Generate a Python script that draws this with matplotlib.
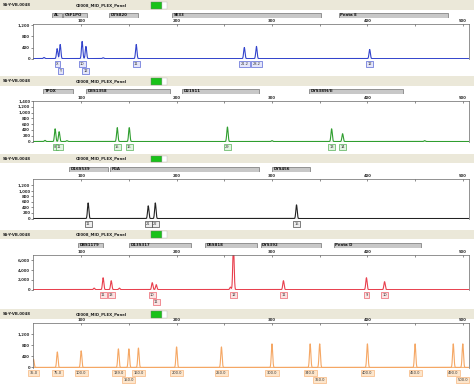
"""Electropherogram de cinco canales (estilo GeneMapper) en out.png."""

import matplotlib
matplotlib.use("Agg")
import matplotlib.pyplot as plt
import numpy as np
from matplotlib.patches import Rectangle

W, H = 474, 389

SAMPLE_NAME = "SS-Y-VB.0048"
PANEL_NAME = "CE008_MID_PLEX_Panel"
SIZE_TICKS = [100, 200, 300, 400, 500]

# --- canal azul ---
blue_markers = ["AL", "CSF1PO", "D7S820", "SE33", "Penta E"]
blue_marker_start = [69.6, 81, 129, 195.5, 370]
blue_marker_end = [80, 106, 160, 351, 485]
blue_peak_pos = [61, 74.8, 78, 101, 105, 123, 157.7, 271, 283.7, 402.4]
blue_peak_h = [40, 360, 510, 620, 440, 30, 510, 400, 440, 330]
blue_allele_pos = [74.8, 78, 101, 105, 157.7, 271, 283.7, 402.4]
blue_allele_txt = ["X", "Y", "10", "12", "11", "21.2", "28.2", "12"]
blue_allele_row = [0, 1, 0, 1, 0, 0, 0, 0]
blue_yticks = [0, 400, 800, 1200]

# --- canal verde ---
green_markers = ["TPOX", "D3S1358", "D21S11", "DYS389I/II"]
green_marker_start = [60, 105, 206, 339]
green_marker_end = [91.6, 193, 286, 437]
green_peak_pos = [62, 72.7, 76.9, 85, 137.8, 150.4, 253.3, 300, 362.5, 374, 460]
green_peak_h = [40, 440, 340, 30, 480, 480, 500, 30, 440, 270, 30]
green_allele_pos = [72.7, 76.9, 137.8, 150.4, 253.3, 362.5, 374]
green_allele_txt = ["8", "11", "15", "16", "29", "13", "14"]
green_allele_row = [0, 0, 0, 0, 0, 0, 0]
green_yticks = [0, 200, 400, 600, 800, 1000, 1200, 1400]

# --- canal negro ---
black_markers = ["D16S539", "FGA", "DYS456"]
black_marker_start = [87, 130, 300]
black_marker_end = [128, 286, 340]
black_peak_pos = [107.3, 170.3, 177.7, 325.7]
black_peak_h = [565, 460, 565, 495]
black_allele_pos = [107.3, 170.3, 177.7, 325.7]
black_allele_txt = ["11", "21", "22", "15"]
black_allele_row = [0, 0, 0, 0]
black_yticks = [0, 200, 400, 600, 800, 1000, 1200]

# --- canal rojo ---
red_markers = ["D8S1179", "D13S317", "D5S818", "DYS392", "Penta D"]
red_marker_start = [96.9, 150, 230, 288, 364.6]
red_marker_end = [123, 215.5, 284.8, 351, 456]
red_peak_pos = [113.6, 123, 131.5, 140, 174.5, 178.7, 256.4, 259.6, 312, 399, 418]
red_peak_h = [300, 2400, 1800, 300, 1400, 1000, 500, 9000, 1800, 2400, 1600]
red_allele_pos = [123, 131.5, 174.5, 178.7, 259.6, 312, 399, 418]
red_allele_txt = ["11", "13", "10", "11", "12", "11", "9", "10"]
red_allele_row = [0, 0, 0, 1, 0, 0, 0, 0]
red_yticks = [0, 2000, 4000, 6000]

# --- canal naranja (estándar de tamaño) ---
orange_peak_pos = [50, 75, 100, 139, 150, 160, 200, 247, 300, 340, 350, 400, 450, 490, 500]
orange_peak_h = [300, 560, 600, 670, 670, 700, 740, 740, 850, 850, 850, 850, 850, 850, 850]
orange_allele_txt = ["35.0", "75.0", "100.0", "139.0", "150.0", "160.0", "200.0", "250.0",
                     "300.0", "340.0", "350.0", "400.0", "450.0", "490.0", "500.0"]
orange_allele_row = [0, 0, 0, 0, 1, 0, 0, 0, 0, 0, 1, 0, 0, 0, 1]
orange_yticks = [0, 400, 800, 1200]


def _rect(x0, y0, x1, y1):
    """Convierte píxeles (arriba-izquierda) a coordenadas de figura."""
    return [x0 / W, 1 - y1 / H, (x1 - x0) / W, (y1 - y0) / H]


XMIN, XMAX = 49.5, 506.5
PLOT_X0, PLOT_X1 = 33, 469


def _header(fig, y0, y1):
    ax = fig.add_axes(_rect(0, y0, W, y1))
    ax.set_xlim(0, W)
    ax.set_ylim(y1, y0)
    ax.axis("off")
    ax.add_patch(Rectangle((0, y0), W, y1 - y0, facecolor="#ebe8d9", edgecolor="none"))
    ym = (y0 + y1) / 2
    ax.text(3, ym, SAMPLE_NAME, fontsize=2.8, va="center", ha="left", color="#222222", fontweight="bold")
    ax.text(76, ym, PANEL_NAME, fontsize=2.8, va="center", ha="left", color="#222222", fontweight="bold")
    ax.add_patch(Rectangle((151, y0 + 1.5), 11, y1 - y0 - 3, facecolor="#19c219", edgecolor="#777777", linewidth=0.3))
    ax.add_patch(Rectangle((162, y0 + 1.5), 5, y1 - y0 - 3, facecolor="white", edgecolor="#bbbbbb", linewidth=0.3))


def _markers(fig, y0, y1, names, starts, ends):
    ax = fig.add_axes(_rect(PLOT_X0, y0, PLOT_X1, y1))
    ax.set_xlim(XMIN, XMAX)
    ax.set_ylim(0, 1)
    ax.axis("off")
    for name, s, e in zip(names, starts, ends):
        ax.add_patch(Rectangle((s, 0.05), e - s, 0.9, facecolor="#c8c8c8", edgecolor="#555555", linewidth=0.4))
        ax.text(s + 1.5, 0.5, name, fontsize=2.8, va="center", ha="left", color="#111111", fontweight="bold")


def _trace(fig, y0, y1, color, fill, base, pos, heights, ytick_vals, ymax,
           allele_pos, allele_txt, allele_row):
    ax = fig.add_axes(_rect(PLOT_X0, y0, PLOT_X1, y1))
    x = np.linspace(XMIN, XMAX, 6000)
    y = np.zeros_like(x)
    for p, h in zip(pos, heights):
        y += h * np.exp(-0.5 * ((x - p) / 0.7) ** 2)
    ax.plot(x, y, color=color, linewidth=0.8)
    ax.axhline(0, color=base, linewidth=0.9, zorder=1)
    ax.set_xlim(XMIN, XMAX)
    ax.set_ylim(-ymax * 0.012, ymax)

    ax.xaxis.tick_top()
    ax.set_xticks(SIZE_TICKS)
    ax.set_xticklabels([str(t) for t in SIZE_TICKS], fontsize=2.8, fontweight="bold")
    ax.set_xticks([150, 250, 350, 450], minor=True)
    ax.tick_params(axis="x", which="both", direction="in", length=1.5, width=0.4, pad=0.8, colors="#333333")
    ax.set_yticks(ytick_vals)
    ax.set_yticklabels([f"{v:,}" for v in ytick_vals], fontsize=2.8, fontweight="bold")
    ax.tick_params(axis="y", direction="out", length=1.2, width=0.4, pad=0.8, colors="#333333")
    for side in ("top", "left", "right"):
        ax.spines[side].set_color("#666666")
        ax.spines[side].set_linewidth(0.5)
    ax.spines["bottom"].set_visible(False)

    for p, t, r in zip(allele_pos, allele_txt, allele_row):
        ax.annotate(t, xy=(p, 0), xycoords=("data", "axes fraction"),
                    xytext=(0, -5 - 7 * r), textcoords="offset pixels",
                    fontsize=2.6, ha="center", va="center", color="#333333",
                    bbox=dict(boxstyle="square,pad=0.35", facecolor=fill, edgecolor=color, linewidth=0.4),
                    annotation_clip=False)
    return ax


fig = plt.figure(figsize=(W / 100, H / 100), dpi=100)
fig.patch.set_facecolor("white")

# panel 1
_header(fig, 0, 10)
_markers(fig, 13, 18, blue_markers, blue_marker_start, blue_marker_end)
_trace(fig, 24, 59, "#3344cc", "#e4e6fa", "#8890e0", blue_peak_pos, blue_peak_h,
       blue_yticks, 1250, blue_allele_pos, blue_allele_txt, blue_allele_row)

# panel 2
_header(fig, 76, 86)
_markers(fig, 89, 94, green_markers, green_marker_start, green_marker_end)
_trace(fig, 101, 142, "#2f9e2f", "#e2f4e2", "#3a8a3a", green_peak_pos, green_peak_h,
       green_yticks, 1400, green_allele_pos, green_allele_txt, green_allele_row)

# panel 3
_header(fig, 154, 163)
_markers(fig, 167, 172, black_markers, black_marker_start, black_marker_end)
_trace(fig, 179, 219, "#222222", "#eeeeee", "#444444", black_peak_pos, black_peak_h,
       black_yticks, 1430, black_allele_pos, black_allele_txt, black_allele_row)

# panel 4
_header(fig, 230, 239)
_markers(fig, 243, 248, red_markers, red_marker_start, red_marker_end)
_trace(fig, 255, 290, "#e8404e", "#fbe2e2", "#e06a70", red_peak_pos, red_peak_h,
       red_yticks, 7000, red_allele_pos, red_allele_txt, red_allele_row)

# panel 5
_header(fig, 309, 319)
_trace(fig, 323, 368, "#f5a764", "#fde6cc", "#f5b880", orange_peak_pos, orange_peak_h,
       orange_yticks, 1600, orange_peak_pos, orange_allele_txt, orange_allele_row)

fig.savefig("out.png", dpi=100)
